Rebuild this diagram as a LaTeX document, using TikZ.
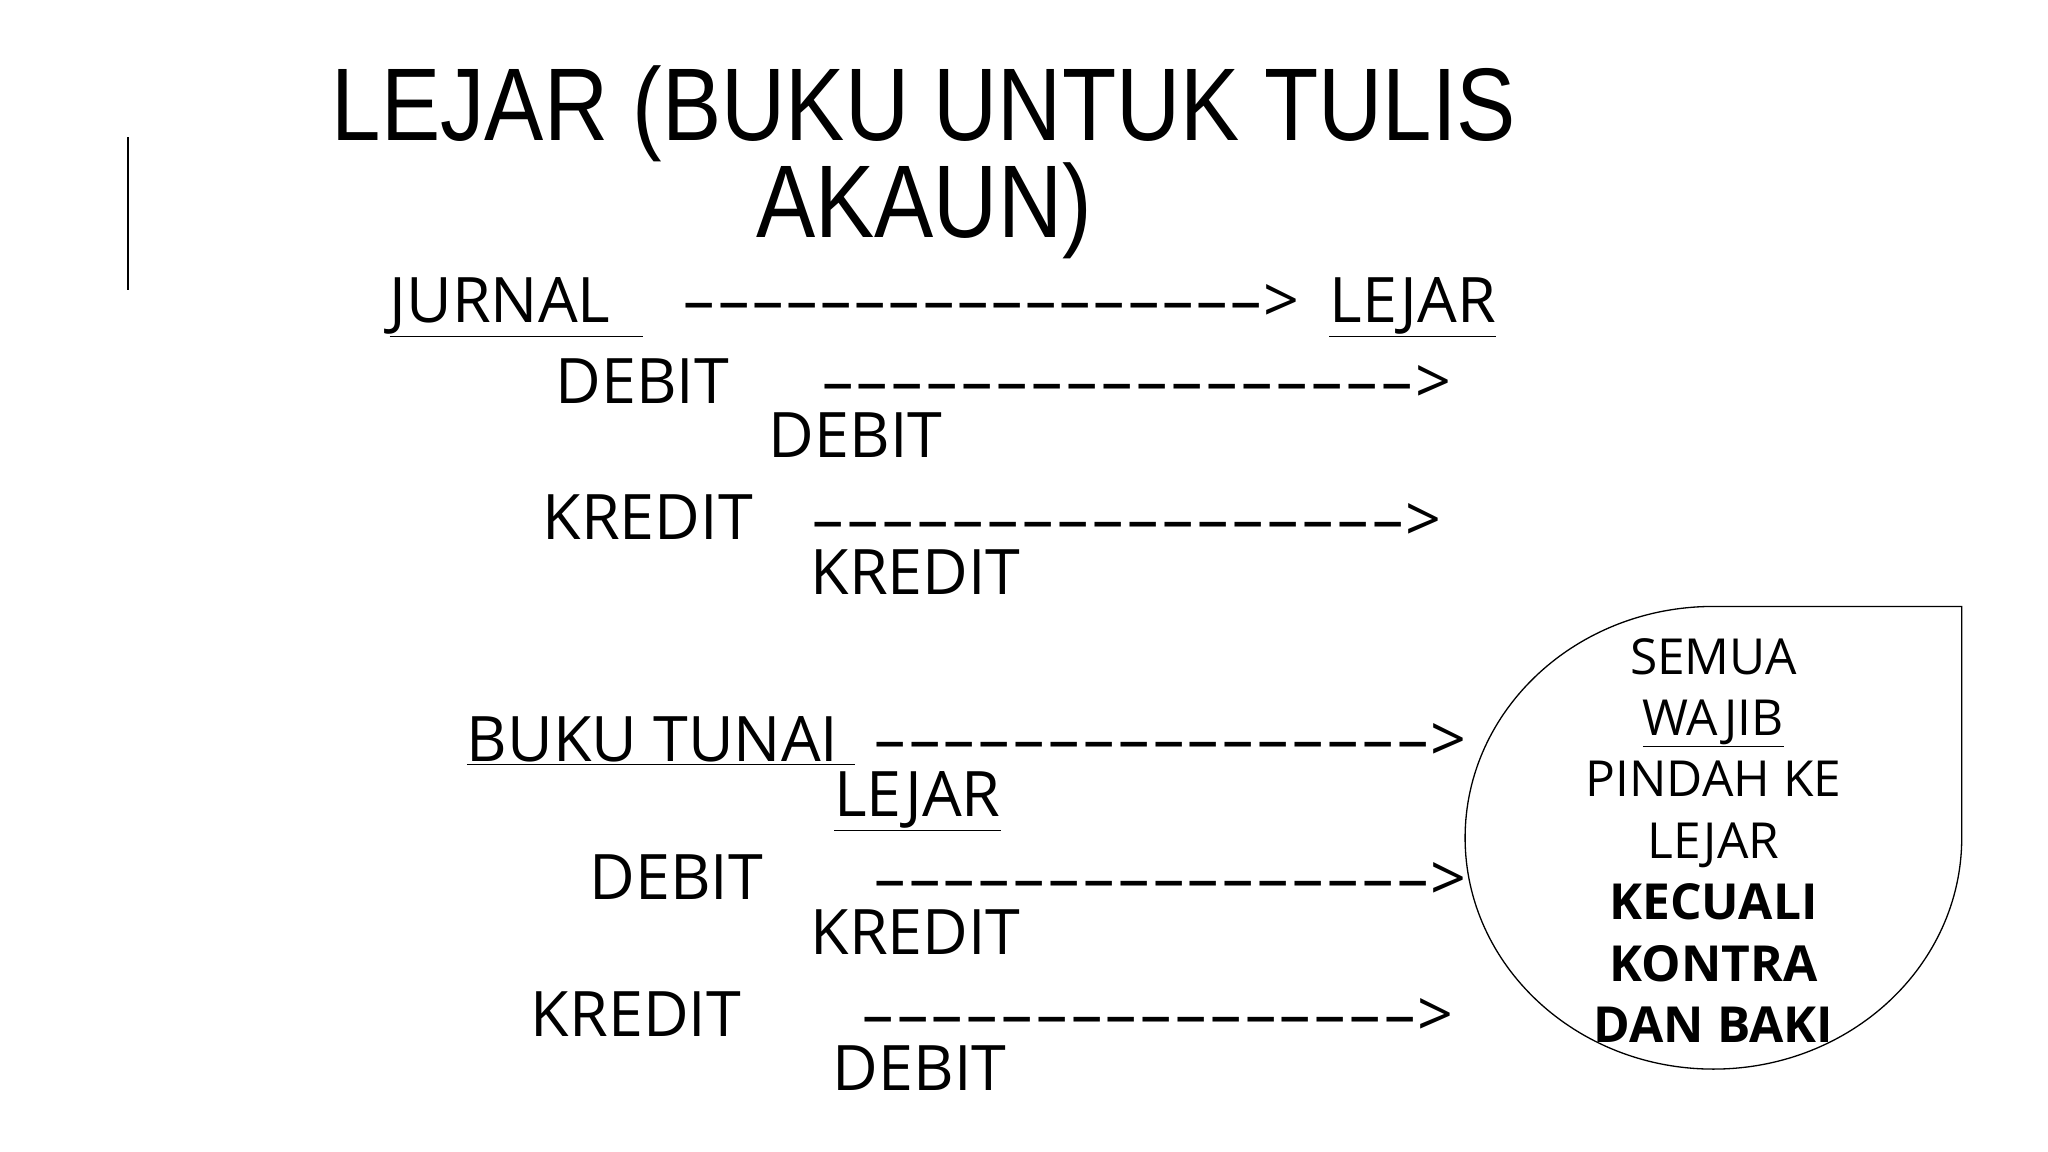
\documentclass[tikz,border=0pt]{standalone}
\usepackage{fontspec}
\setmainfont{Open Sans}
\newfontfamily\titlefont[FakeStretch=0.86]{Liberation Sans}
\newcommand\dashrow[1]{\hbox to #1{\xleaders\hbox to 26pt{\hss\char"2013\hss}\hfill>}}
\begin{document}
\begin{tikzpicture}[x=1pt,y=-1pt,
  lbl/.style={anchor=base west,inner sep=0pt,font=\fontsize{48}{48}\selectfont},
  box/.style={align=center,inner sep=0pt,font=\fontsize{38}{47}\selectfont}]
\useasboundingbox (0,0) rectangle (1567,881);
\draw[line width=1.5pt] (98,105) -- (98,222);
\node[align=center,font=\titlefont\fontsize{79}{72}\selectfont] (title) at (707,124) {LEJAR (BUKU UNTUK TULIS\\AKAUN)};
\node[lbl] (j) at (298,247) {\underline{JURNAL\ \ }};
\node[lbl] (d1) at (522,247) {\dashrow{472pt}};
\node[lbl] (l) at (1017,247) {\underline{LEJAR}};
\node[lbl] (a1) at (425,309) {DEBIT};
\node[lbl] (d2) at (627,309) {\dashrow{483pt}};
\node[lbl] (a2) at (588,350) {DEBIT};
\node[lbl] (b1) at (415,413) {KREDIT};
\node[lbl] (d3) at (620,414) {\dashrow{483pt}};
\node[lbl] (b2) at (620,455) {KREDIT};
\node[lbl] (bt) at (357,583) {\underline{BUKU TUNAI\ }};
\node[lbl] (d4) at (667,583) {\dashrow{455pt}};
\node[lbl] (l2) at (638,625) {\underline{LEJAR}};
\node[lbl] (c1) at (451,688) {DEBIT};
\node[lbl] (d5) at (667,689) {\dashrow{455pt}};
\node[lbl] (c2) at (620,730) {KREDIT};
\node[lbl] (e1) at (406,793) {KREDIT};
\node[lbl] (d6) at (658,793) {\dashrow{454pt}};
\node[lbl] (e2) at (637,834) {DEBIT};
\draw[line width=1pt] (1311,464) -- (1501,464) -- (1501,641) arc[start angle=0,end angle=270,x radius=190,y radius=177];
\node[box] (s) at (1311,643) {SEMUA\\\underline{WAJIB}\\PINDAH KE\\LEJAR\\\textbf{KECUALI}\\\textbf{KONTRA}\\\textbf{DAN BAKI}};
\end{tikzpicture}
\end{document}
